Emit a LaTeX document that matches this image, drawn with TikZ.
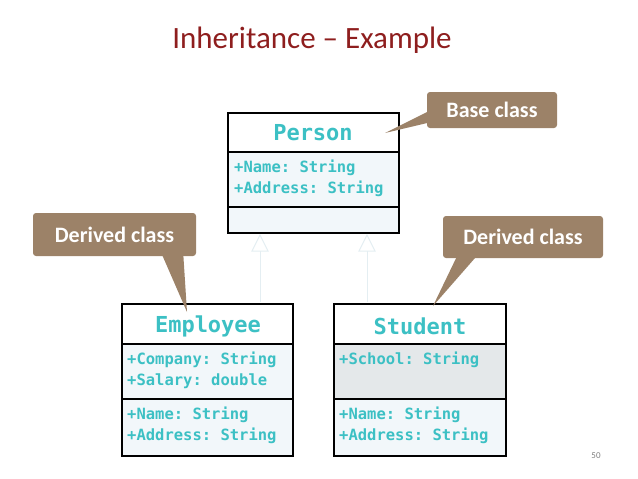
\documentclass[tikz,border=0pt]{standalone}
\usepackage{fontspec}
\setmainfont{Carlito}
\setmonofont{DejaVu Sans Mono}
\definecolor{callc}{HTML}{9C8268}
\definecolor{titc}{HTML}{8E1E1E}
\definecolor{txc}{HTML}{3CC0C4}
\definecolor{fillb}{HTML}{F2F7FA}
\definecolor{fillg}{HTML}{E4E8EA}
\definecolor{arrc}{HTML}{E4EEF2}
\tikzset{
 box/.style={draw=black, line width=1.3pt},
 cls/.style={font=\ttfamily\bfseries\fontsize{22}{22}\selectfont, text=txc},
 attr/.style={font=\ttfamily\bfseries\fontsize{15.5}{21}\selectfont, text=txc, align=left, anchor=north west, inner sep=0pt},
 call/.style={fill=callc, rounded corners=3pt, text=white, font=\bfseries\fontsize{22}{22}\selectfont},
 inh/.style={draw=arrc, line width=1pt},
}
\begin{document}
\begin{tikzpicture}[x=1pt,y=-1pt]
\useasboundingbox (0,0) rectangle (638,479);
\node[font=\fontsize{31}{31}\selectfont, text=titc] (title) at (312,40) {Inheritance – Example};
% Person
\draw[box, fill=white] (228,113) rectangle (399,152);
\draw[box, fill=fillb] (228,152) rectangle (399,207);
\draw[box, fill=fillb] (228,207) rectangle (399,233);
\node[cls] (person) at (313,133) {Person};
\node[attr] (pa) at (234,160) {+Name: String\\+Address: String};
% Employee
\draw[box, fill=white] (122,304) rectangle (293,344);
\draw[box, fill=fillb] (122,344) rectangle (293,399);
\draw[box, fill=fillb] (122,399) rectangle (293,456);
\node[cls] (emp) at (208,326) {Employee};
\node[attr] (ea) at (127,352) {+Company: String\\+Salary: double};
\node[attr] (eb) at (127,407) {+Name: String\\+Address: String};
% Student
\draw[box, fill=white] (334,304) rectangle (506,344);
\draw[box, fill=fillg] (334,344) rectangle (506,399);
\draw[box, fill=fillb] (334,399) rectangle (506,456);
\node[cls] (stu) at (420,326) {Student};
\node[attr] (sa) at (339,352) {+School: String};
\node[attr] (sb) at (339,407) {+Name: String\\+Address: String};
% inheritance arrows
\coordinate (e1) at (260,302); \coordinate (p1) at (260,251);
\coordinate (s1) at (367,302); \coordinate (p2) at (367,251);
\draw[inh] (e1) -- (p1);
\draw[inh] (s1) -- (p2);
\draw[inh, fill=white] (252,251) -- (260,235) -- (268,251) -- cycle;
\draw[inh, fill=white] (359,251) -- (367,235) -- (375,251) -- cycle;
% callouts
\fill[callc] (160,250) -- (187,312) -- (183,250) -- cycle;
\node[call, minimum width=163pt, minimum height=43pt] (dl) at (114.5,234.5) {Derived class};
\fill[callc] (435,108) -- (385,133) -- (440,120) -- cycle;
\node[call, minimum width=130pt, minimum height=36pt] (bc) at (492,110) {Base class};
\fill[callc] (460,250) -- (433,306) -- (482,250) -- cycle;
\node[call, minimum width=160pt, minimum height=42pt] (dr) at (523,237) {Derived class};
\node[font=\fontsize{9}{9}\selectfont, text=gray] (pg) at (596,456) {50};
\end{tikzpicture}
\end{document}
